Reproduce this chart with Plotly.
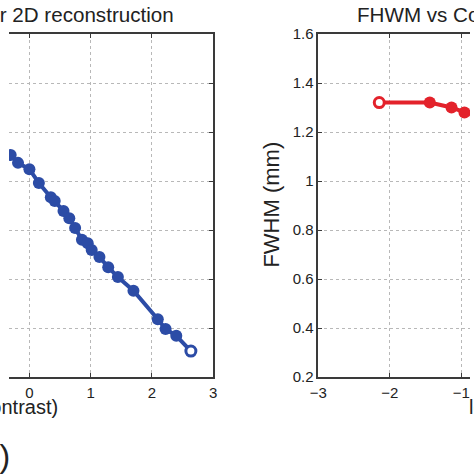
import plotly.graph_objects as go

# Left panel: contrast for 2D reconstruction (y in gridline units; tick labels are off-image)
left_x = [-0.306, -0.186, 0.0, 0.154, 0.349, 0.413, 0.556, 0.651, 0.746, 0.857,
          0.952, 1.016, 1.143, 1.286, 1.444, 1.698, 2.095, 2.222, 2.397, 2.635]
left_y = [0.53, 0.37, 0.24, -0.04, -0.33, -0.41, -0.61, -0.76, -0.96, -1.20,
          -1.27, -1.41, -1.55, -1.76, -1.96, -2.24, -2.82, -3.02, -3.16, -3.47]

# Right panel: FWHM vs contrast
right_x = [-2.147, -1.44, -1.136, -0.955, -0.80]
right_y = [1.32, 1.32, 1.30, 1.28, 1.27]

left_xticks = [0, 1, 2, 3]
left_yticks = [-4, -3, -2, -1, 0, 1, 2, 3]
right_xticks = [-3, -2, -1]
right_xtext = ["\u22123", "\u22122", "\u22121"]
right_yticks = [0.2, 0.4, 0.6, 0.8, 1.0, 1.2, 1.4, 1.6]
right_ytext = ["0.2", "0.4", "0.6", "0.8", "1", "1.2", "1.4", "1.6"]

BLUE = "#2c4ca6"
RED = "#e3222b"
AX = "#3a3a3a"
TXT = "#222222"
FONT = "Liberation Sans, Arial, Helvetica, sans-serif"
W = 474.0
TOP, BOT = 34.0, 97.0
PH = W - TOP - BOT

fig = go.Figure()

n = len(left_x)
fig.add_trace(go.Scatter(
    x=left_x, y=left_y, mode="lines+markers", xaxis="x", yaxis="y",
    line=dict(color=BLUE, width=4),
    marker=dict(size=[12] * (n - 1) + [10], color=[BLUE] * (n - 1) + ["white"], opacity=1,
                line=dict(color=BLUE, width=[0] * (n - 1) + [3])),
    showlegend=False))

m = len(right_x)
fig.add_trace(go.Scatter(
    x=right_x, y=right_y, mode="lines+markers", xaxis="x2", yaxis="y2",
    line=dict(color=RED, width=4),
    marker=dict(size=[10] + [12] * (m - 1), color=["white"] + [RED] * (m - 1), opacity=1,
                line=dict(color=RED, width=[3] + [0] * (m - 1))),
    showlegend=False))

grid = dict(showgrid=True, gridcolor="#b8b8b8", griddash="dot", gridwidth=1,
            zeroline=False, showline=True, linecolor=AX, linewidth=1.5,
            ticks="inside", ticklen=4, tickcolor=AX,
            tickfont=dict(family=FONT, size=15, color=TXT))

fig.update_layout(
    width=474, height=474,
    margin=dict(l=0, r=0, t=TOP, b=BOT),
    paper_bgcolor="white", plot_bgcolor="white",
    xaxis=dict(domain=[0, 210 / W], range=[-1 / 3, 3], tickvals=left_xticks,
               mirror="allticks", anchor="y", ticklabelstandoff=1, **grid),
    yaxis=dict(domain=[0, 1], range=[-4, 3], tickvals=left_yticks, side="right",
               showticklabels=False, anchor="x", **grid),
    xaxis2=dict(domain=[318 / W, 1], range=[-3, -3 + 156 / 73.5], tickvals=right_xticks,
                ticktext=right_xtext, mirror="allticks", anchor="y2", ticklabelstandoff=1, **grid),
    yaxis2=dict(domain=[0, 1], range=[0.2, 1.6], tickvals=right_yticks, ticktext=right_ytext,
                anchor="x2", **grid),
)

def px_x(p):
    return p / W

def px_y(p):
    return 1 - (p - TOP) / PH

ann = [
    dict(text="Contrast for 2D reconstruction", x=px_x(172), y=px_y(14), xanchor="right",
         yanchor="middle", font=dict(size=20.6)),
    dict(text="FHWM vs Contrast", x=px_x(356), y=px_y(14), xanchor="left",
         yanchor="middle", font=dict(size=20.6)),
    dict(text="log(contrast)", x=px_x(52), y=px_y(407), xanchor="right",
         yanchor="middle", font=dict(size=20)),
    dict(text="log(contrast)", x=px_x(471), y=px_y(407), xanchor="left",
         yanchor="middle", font=dict(size=20)),
    dict(text="FWHM (mm)", x=px_x(270), y=px_y(205), xanchor="center",
         yanchor="middle", textangle=-90, font=dict(size=22)),
    dict(text="(a)", x=px_x(3), y=px_y(456), xanchor="right",
         yanchor="middle", font=dict(size=32)),
]
for a in ann:
    a.update(xref="paper", yref="paper", showarrow=False)
    a["font"].update(family=FONT, color=TXT)
fig.update_layout(annotations=ann)

fig.write_html("out.html")
